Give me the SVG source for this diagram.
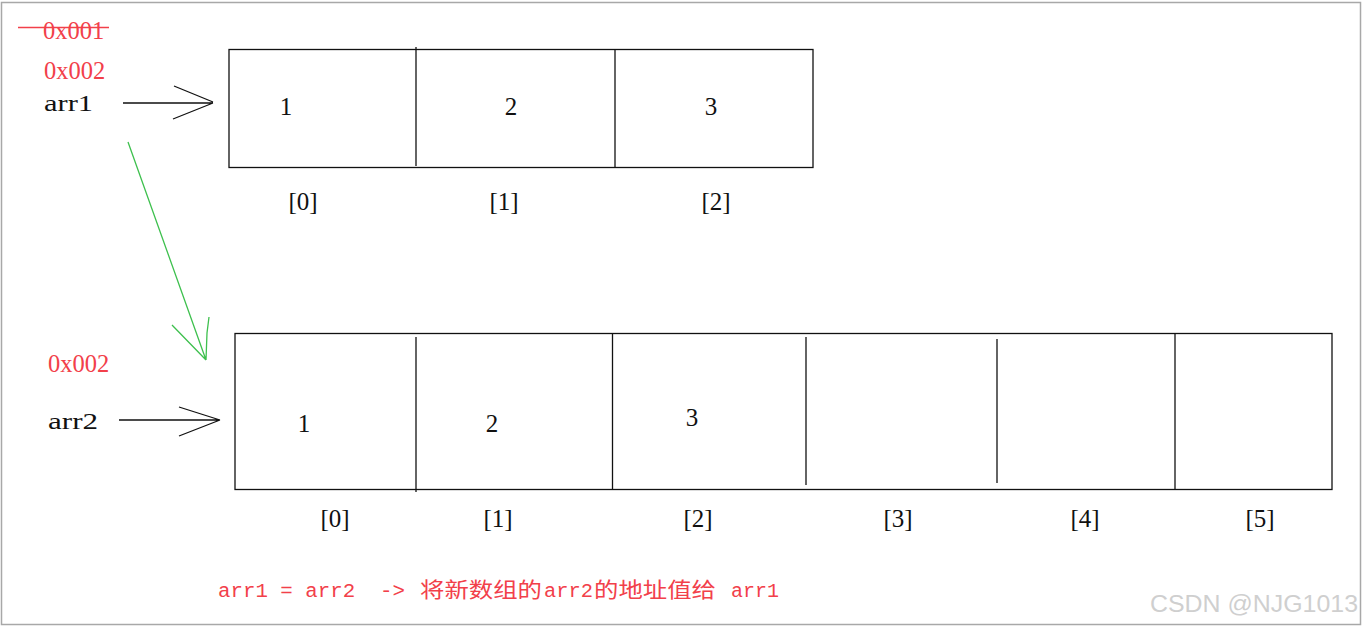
<svg xmlns="http://www.w3.org/2000/svg" width="1364" height="627" viewBox="0 0 1364 627">
<style>
.cell{fill:none;stroke:#111;stroke-width:1.3}
.div{stroke:#111;stroke-width:1.3}
.t{font-family:"Liberation Serif","Noto Sans CJK SC",serif;font-size:25px;fill:#111}
.red{font-family:"Liberation Serif","Noto Sans CJK SC",serif;font-size:24.5px;fill:#f2404a}
.lbl{font-family:"Liberation Serif",serif;font-size:24px;fill:#111}
.blk{stroke:#111;stroke-width:1.3;fill:none}
.grn{stroke:#3ec04e;stroke-width:1.3;fill:none}
.note{font-family:"Liberation Mono","Noto Sans CJK SC",monospace;font-size:20px;fill:#f2404a;white-space:pre}
.cjk{font-family:"Noto Sans CJK SC",sans-serif;font-size:21px;fill:#f2404a}
</style>
<rect x="1.5" y="2.5" width="1359" height="622" fill="#fff" stroke="#a8a8a8" stroke-width="1.5"/>

<g id="label-0x001">
<text class="red" x="43" y="39">0x001</text>
<line x1="18" y1="27.5" x2="109" y2="27.5" stroke="#f2404a" stroke-width="1.3"/>
</g>
<g id="label-0x002-top"><text class="red" x="44" y="79">0x002</text></g>
<g id="label-arr1"><text class="lbl" x="44" y="111" textLength="49" lengthAdjust="spacingAndGlyphs">arr1</text></g>

<g id="array1">
<rect class="cell" x="229" y="49.5" width="584" height="118"/>
<line class="div" x1="416" y1="47" x2="416" y2="166"/>
<line class="div" x1="615" y1="49" x2="615" y2="167"/>
<text class="t" x="286" y="115" text-anchor="middle">1</text>
<text class="t" x="511" y="115" text-anchor="middle">2</text>
<text class="t" x="711" y="115" text-anchor="middle">3</text>
<text class="t" x="303" y="210" text-anchor="middle">[0]</text>
<text class="t" x="504" y="210" text-anchor="middle">[1]</text>
<text class="t" x="716" y="210" text-anchor="middle">[2]</text>
</g>

<g id="label-0x002-bottom"><text class="red" x="48" y="372">0x002</text></g>
<g id="label-arr2"><text class="lbl" x="48" y="429" textLength="50" lengthAdjust="spacingAndGlyphs">arr2</text></g>

<g id="array2">
<rect class="cell" x="235" y="333.5" width="1097" height="156"/>
<line class="div" x1="416" y1="337" x2="416" y2="492"/>
<line class="div" x1="612.5" y1="333" x2="612.5" y2="489"/>
<line class="div" x1="806" y1="337" x2="806" y2="485"/>
<line class="div" x1="997" y1="339" x2="997" y2="483"/>
<line class="div" x1="1175" y1="333" x2="1175" y2="489"/>
<text class="t" x="304" y="432" text-anchor="middle">1</text>
<text class="t" x="492" y="432" text-anchor="middle">2</text>
<text class="t" x="692" y="426" text-anchor="middle">3</text>
<text class="t" x="335" y="527" text-anchor="middle">[0]</text>
<text class="t" x="498" y="527" text-anchor="middle">[1]</text>
<text class="t" x="698" y="527" text-anchor="middle">[2]</text>
<text class="t" x="898" y="527" text-anchor="middle">[3]</text>
<text class="t" x="1085" y="527" text-anchor="middle">[4]</text>
<text class="t" x="1260" y="527" text-anchor="middle">[5]</text>
</g>

<g id="connectors">
<path class="blk" d="M123 103 H213 M174 86 L213 102 M173 119 L213 103"/>
<path class="blk" d="M119 420 H220 M179 407 L220 420 M179 436 L220 420"/>
<path class="grn" d="M128 142 L206 360 M172 325 L206 360 M209 317 L207 333 L206 360"/>
</g>

<g id="note">
<text class="note" y="597"><tspan x="218" textLength="187" lengthAdjust="spacingAndGlyphs">arr1 = arr2  -&gt;</tspan><tspan class="cjk" x="420" textLength="122" lengthAdjust="spacingAndGlyphs">将新数组的</tspan><tspan x="544" textLength="49" lengthAdjust="spacingAndGlyphs">arr2</tspan><tspan class="cjk" x="594" textLength="122" lengthAdjust="spacingAndGlyphs">的地址值给</tspan><tspan x="731" textLength="48" lengthAdjust="spacingAndGlyphs">arr1</tspan></text>
</g>

<g id="watermark">
<text x="1150" y="612" font-family="Liberation Sans,Arial,sans-serif" font-size="23" fill="#cfcfcf" textLength="208" lengthAdjust="spacingAndGlyphs">CSDN @NJG1013</text>
</g>
</svg>
